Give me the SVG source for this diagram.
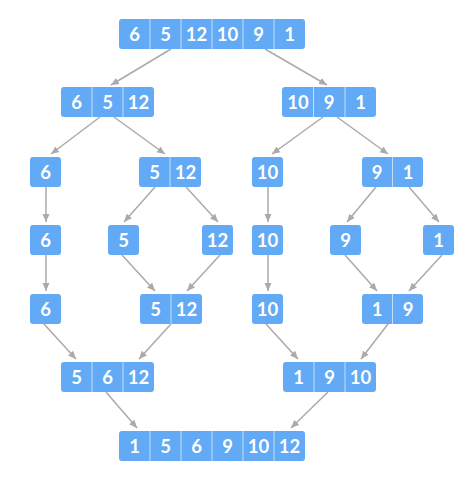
<svg xmlns="http://www.w3.org/2000/svg" width="474" height="481" viewBox="0 0 474 481">
<style>
.b{fill:#62aaf5}
.d{stroke:#c4defa;stroke-width:1}
.t{font-family:Lato,"Liberation Sans",sans-serif;font-weight:bold;font-size:18.5px;fill:#fff;text-anchor:middle}
.c line{stroke:#aaaaaa;stroke-width:1.5;marker-end:url(#ah)}
</style>
<defs>
<marker id="ah" markerUnits="userSpaceOnUse" markerWidth="9" markerHeight="8" refX="8" refY="4" orient="auto">
<path d="M0,0.5 L8,4 L0,7.5 z" fill="#aaaaaa"/>
</marker>
</defs>
<rect width="474" height="481" fill="#fff"/>
<g class="c" id="connectors">
<line x1="171" y1="49" x2="111" y2="85"/>
<line x1="265" y1="49" x2="327" y2="85"/>
<line x1="100" y1="117" x2="51" y2="154"/>
<line x1="114" y1="117" x2="165" y2="154"/>
<line x1="323" y1="117" x2="272" y2="154"/>
<line x1="337" y1="117" x2="388" y2="154"/>
<line x1="46" y1="187" x2="46" y2="222"/>
<line x1="155" y1="187" x2="124" y2="222"/>
<line x1="186" y1="187" x2="218" y2="222"/>
<line x1="268" y1="187" x2="268" y2="222"/>
<line x1="376" y1="187" x2="347" y2="222"/>
<line x1="409" y1="187" x2="439" y2="222"/>
<line x1="46" y1="255" x2="46" y2="291"/>
<line x1="122" y1="255" x2="155" y2="291"/>
<line x1="220" y1="255" x2="187" y2="291"/>
<line x1="268" y1="255" x2="268" y2="291"/>
<line x1="345" y1="255" x2="377" y2="291"/>
<line x1="442" y1="255" x2="409" y2="291"/>
<line x1="44" y1="324" x2="76" y2="359"/>
<line x1="171" y1="324" x2="139" y2="359"/>
<line x1="266" y1="324" x2="298" y2="359"/>
<line x1="388" y1="324" x2="361" y2="359"/>
<line x1="106" y1="392" x2="137" y2="428"/>
<line x1="328" y1="392" x2="291" y2="428"/>
</g>
<g id="n1">
<rect class="b" x="119" y="19" width="186" height="30" rx="3"/>
<line class="d" x1="150" y1="19" x2="150" y2="49"/><line class="d" x1="181" y1="19" x2="181" y2="49"/><line class="d" x1="212" y1="19" x2="212" y2="49"/><line class="d" x1="243" y1="19" x2="243" y2="49"/><line class="d" x1="274" y1="19" x2="274" y2="49"/>
<text class="t" x="134.5" y="40.5">6</text><text class="t" x="165.5" y="40.5">5</text><text class="t" x="196.5" y="40.5">12</text><text class="t" x="227.5" y="40.5">10</text><text class="t" x="258.5" y="40.5">9</text><text class="t" x="289.5" y="40.5">1</text>
</g>
<g id="n2">
<rect class="b" x="61" y="87" width="93" height="30" rx="3"/>
<line class="d" x1="92" y1="87" x2="92" y2="117"/><line class="d" x1="123" y1="87" x2="123" y2="117"/>
<text class="t" x="76.5" y="108.5">6</text><text class="t" x="107.5" y="108.5">5</text><text class="t" x="138.5" y="108.5">12</text>
</g>
<g id="n3">
<rect class="b" x="282" y="87" width="94" height="30" rx="3"/>
<line class="d" x1="313.5" y1="87" x2="313.5" y2="117"/><line class="d" x1="345" y1="87" x2="345" y2="117"/>
<text class="t" x="298" y="108.5">10</text><text class="t" x="329" y="108.5">9</text><text class="t" x="360.5" y="108.5">1</text>
</g>
<g id="n4">
<rect class="b" x="30" y="157" width="31" height="30" rx="3"/>
<text class="t" x="45.5" y="178.5">6</text>
</g>
<g id="n5">
<rect class="b" x="139" y="157" width="62" height="30" rx="3"/>
<line class="d" x1="170" y1="157" x2="170" y2="187"/>
<text class="t" x="154.5" y="178.5">5</text><text class="t" x="185.5" y="178.5">12</text>
</g>
<g id="n6">
<rect class="b" x="252" y="157" width="31" height="30" rx="3"/>
<text class="t" x="267.5" y="178.5">10</text>
</g>
<g id="n7">
<rect class="b" x="362" y="157" width="61" height="30" rx="3"/>
<line class="d" x1="392.5" y1="157" x2="392.5" y2="187"/>
<text class="t" x="377" y="178.5">9</text><text class="t" x="408" y="178.5">1</text>
</g>
<g id="n8">
<rect class="b" x="30" y="225" width="31" height="30" rx="3"/>
<text class="t" x="45.5" y="246.5">6</text>
</g>
<g id="n9">
<rect class="b" x="108" y="225" width="31" height="30" rx="3"/>
<text class="t" x="123.5" y="246.5">5</text>
</g>
<g id="n10">
<rect class="b" x="202" y="225" width="31" height="30" rx="3"/>
<text class="t" x="217.5" y="246.5">12</text>
</g>
<g id="n11">
<rect class="b" x="252" y="225" width="31" height="30" rx="3"/>
<text class="t" x="267.5" y="246.5">10</text>
</g>
<g id="n12">
<rect class="b" x="330" y="225" width="31" height="30" rx="3"/>
<text class="t" x="345.5" y="246.5">9</text>
</g>
<g id="n13">
<rect class="b" x="423" y="225" width="31" height="30" rx="3"/>
<text class="t" x="438.5" y="246.5">1</text>
</g>
<g id="n14">
<rect class="b" x="30" y="294" width="31" height="30" rx="3"/>
<text class="t" x="45.5" y="315.5">6</text>
</g>
<g id="n15">
<rect class="b" x="140" y="294" width="62" height="30" rx="3"/>
<line class="d" x1="171" y1="294" x2="171" y2="324"/>
<text class="t" x="155.5" y="315.5">5</text><text class="t" x="186.5" y="315.5">12</text>
</g>
<g id="n16">
<rect class="b" x="252" y="294" width="31" height="30" rx="3"/>
<text class="t" x="267.5" y="315.5">10</text>
</g>
<g id="n17">
<rect class="b" x="362" y="294" width="61" height="30" rx="3"/>
<line class="d" x1="392.5" y1="294" x2="392.5" y2="324"/>
<text class="t" x="377" y="315.5">1</text><text class="t" x="408" y="315.5">9</text>
</g>
<g id="n18">
<rect class="b" x="61" y="362" width="93" height="30" rx="3"/>
<line class="d" x1="92" y1="362" x2="92" y2="392"/><line class="d" x1="123" y1="362" x2="123" y2="392"/>
<text class="t" x="76.5" y="383.5">5</text><text class="t" x="107.5" y="383.5">6</text><text class="t" x="138.5" y="383.5">12</text>
</g>
<g id="n19">
<rect class="b" x="283" y="362" width="93" height="30" rx="3"/>
<line class="d" x1="314" y1="362" x2="314" y2="392"/><line class="d" x1="345" y1="362" x2="345" y2="392"/>
<text class="t" x="298.5" y="383.5">1</text><text class="t" x="329.5" y="383.5">9</text><text class="t" x="360.5" y="383.5">10</text>
</g>
<g id="n20">
<rect class="b" x="119" y="431" width="186" height="30" rx="3"/>
<line class="d" x1="150" y1="431" x2="150" y2="461"/><line class="d" x1="181" y1="431" x2="181" y2="461"/><line class="d" x1="212" y1="431" x2="212" y2="461"/><line class="d" x1="243" y1="431" x2="243" y2="461"/><line class="d" x1="274" y1="431" x2="274" y2="461"/>
<text class="t" x="134.5" y="452.5">1</text><text class="t" x="165.5" y="452.5">5</text><text class="t" x="196.5" y="452.5">6</text><text class="t" x="227.5" y="452.5">9</text><text class="t" x="258.5" y="452.5">10</text><text class="t" x="289.5" y="452.5">12</text>
</g>
</svg>
